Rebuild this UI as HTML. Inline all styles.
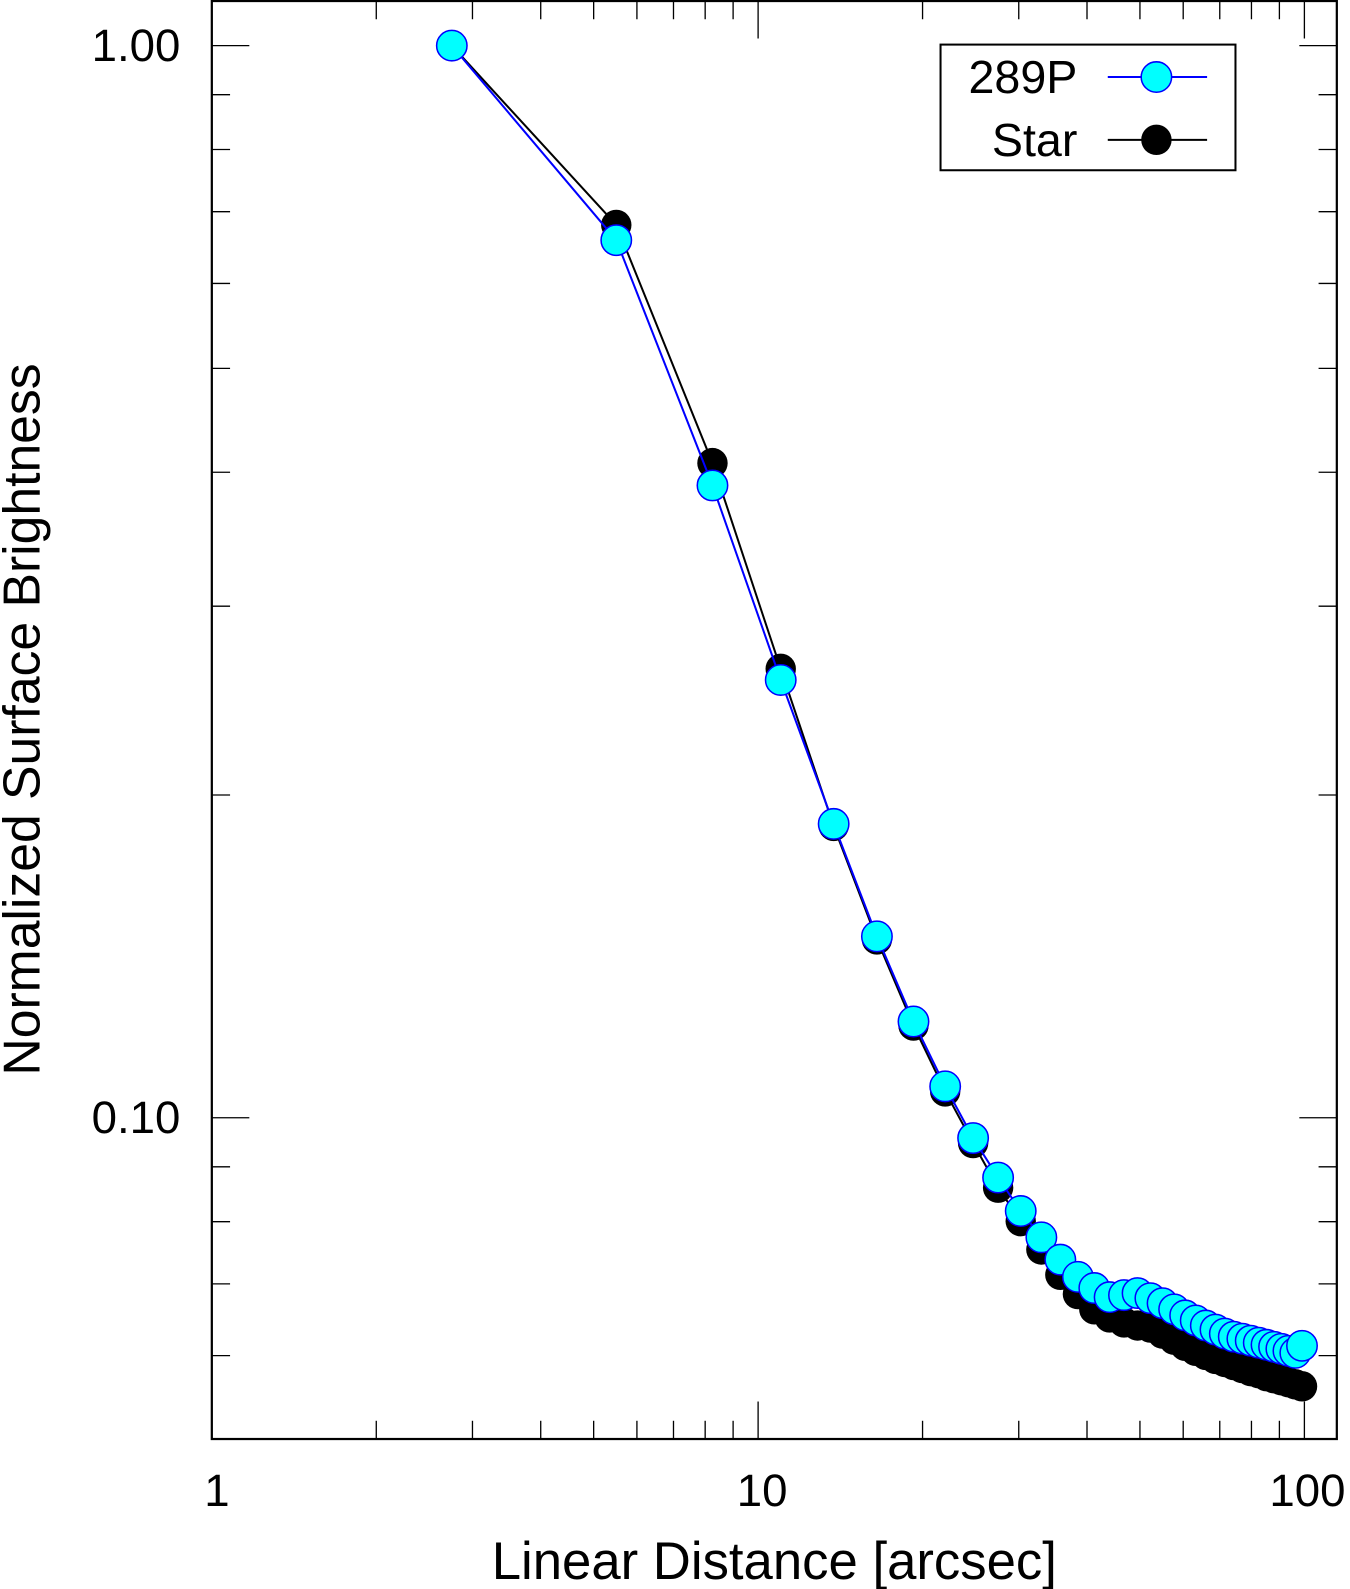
<!DOCTYPE html>
<html><head><meta charset="utf-8"><style>
html,body{margin:0;padding:0;background:#fff}
svg{display:block}
text{font-family:"Liberation Sans",Arial,sans-serif;fill:#000}
</style></head><body>
<svg id="s" width="1350" height="1589" viewBox="0 0 1332 1568" preserveAspectRatio="none" xmlns="http://www.w3.org/2000/svg">
<g id="ticks" stroke="#000" stroke-width="1.3"></g>
<rect x="209" y="1" width="1110" height="1419" fill="none" stroke="#000" stroke-width="2.2"/>
<g id="data"></g>
<text x="178" y="60" font-size="45" text-anchor="end">1.00</text>
<text x="178" y="1118" font-size="45" text-anchor="end">0.10</text>
<text x="214" y="1486" font-size="45" text-anchor="middle">1</text>
<text x="752" y="1486" font-size="45" text-anchor="middle">10</text>
<text x="1290" y="1486" font-size="45" text-anchor="middle">100</text>
<text x="764" y="1558" font-size="52" text-anchor="middle">Linear Distance [arcsec]</text>
<text transform="translate(39,710) rotate(-90)" font-size="51" text-anchor="middle">Normalized Surface Brightness</text>
<rect x="928" y="44" width="291" height="124" fill="#fff" stroke="#000" stroke-width="2"/>
<text x="1063" y="92" font-size="46" text-anchor="end">289P</text>
<text x="1063" y="154" font-size="46" text-anchor="end">Star</text>
<line x1="1093" y1="76" x2="1191" y2="76" stroke="#0000ff" stroke-width="2"/>
<circle cx="1141" cy="76" r="15" fill="#00ffff" stroke="#0000ff" stroke-width="1.5"/>
<line x1="1093" y1="138" x2="1191" y2="138" stroke="#000" stroke-width="2"/>
<circle cx="1141" cy="138" r="15" fill="#000"/>
</svg>
<script>
var NS="http://www.w3.org/2000/svg";
function el(p,t,a){var e=document.createElementNS(NS,t);for(var k in a)e.setAttribute(k,a[k]);p.appendChild(e);return e;}
var T=document.getElementById('ticks'),D=document.getElementById('data');
var L=209,R=1319,B=1420,TOP=1,XD=539,Y0=45,YD=1058;
function X(v){return L+XD*Math.log10(v);}
function Y(v){return Y0-YD*Math.log10(v);}
[1,2,3,4,5,6,7,8,9,10,20,30,40,50,60,70,80,90,100].forEach(function(v){
 var x=X(v),len=(v==1||v==10||v==100)?37:18;
 el(T,'line',{x1:x,y1:B,x2:x,y2:B-len});el(T,'line',{x1:x,y1:TOP,x2:x,y2:TOP+len});});
[1,0.9,0.8,0.7,0.6,0.5,0.4,0.3,0.2,0.1,0.09,0.08,0.07,0.06].forEach(function(v){
 var y=Y(v),len=(v==1||v==0.1)?37:18;
 el(T,'line',{x1:L,y1:y,x2:L+len,y2:y});el(T,'line',{x1:R,y1:y,x2:R-len,y2:y});});
var cy=[45,237,479,671,813,924,1008,1072,1123,1162,1195,1221,1243,1260,1271,1280,1278,1276,1281,1286,1292,1298,1303,1308,1312,1316,1319,1321,1323,1325,1327,1329,1331,1333,1335,1328];
var sy=[45,222,457,660,815,927,1012,1077,1128,1172,1205,1233,1258,1277,1292,1300,1305,1308,1310,1316,1322,1328,1333,1337,1341,1344,1347,1350,1353,1355,1358,1360,1362,1364,1366,1368];
function pts(ys){return ys.map(function(y,i){return X(2.75*(i+1)).toFixed(1)+','+y;}).join(' ');}
el(D,'polyline',{points:pts(sy),fill:'none',stroke:'#000','stroke-width':2});
sy.forEach(function(y,i){el(D,'circle',{cx:X(2.75*(i+1)),cy:y,r:15,fill:'#000'});});
el(D,'polyline',{points:pts(cy),fill:'none',stroke:'#0000ff','stroke-width':2});
cy.forEach(function(y,i){el(D,'circle',{cx:X(2.75*(i+1)),cy:y,r:15,fill:'#00ffff',stroke:'#0000ff','stroke-width':1.5});});
</script>
</body></html>
